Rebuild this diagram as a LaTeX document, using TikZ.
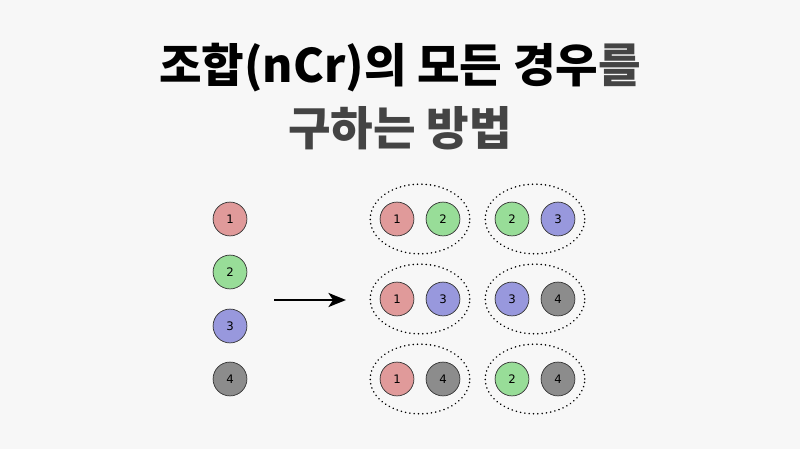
\documentclass[tikz,border=0pt]{standalone}
\usepackage{fontspec}
\usetikzlibrary{arrows.meta,shapes.geometric}
\newfontfamily\kr{Noto Sans CJK KR}
\setsansfont{DejaVu Sans}
\definecolor{cr}{HTML}{E09A9A}
\definecolor{cg}{HTML}{98DD98}
\definecolor{cb}{HTML}{9898DD}
\definecolor{ck}{HTML}{8C8C8C}
\definecolor{tg}{HTML}{444444}
\begin{document}
\begin{tikzpicture}[x=0.03cm,y=-0.03cm,
 ball/.style={circle,draw=black!80,line width=0.6pt,minimum size=34*0.85pt,inner sep=0pt,font=\sffamily\fontsize{10}{10}\selectfont},
 grp/.style={ellipse,draw,line width=1.4pt,line cap=round,dash pattern=on 0.1pt off 3.6pt,minimum width=100*0.85pt,minimum height=70*0.85pt}]
\fill[white!97!black] (0,0) rectangle (800,449);
\useasboundingbox (0,0) rectangle (800,449);
\node (t1) at (400,68) {\kr\bfseries\fontsize{39.5}{42}\selectfont 조합(nCr)의 모든 경우\textcolor{tg}{를}};
\node[text=tg] (t2) at (400,128) {\kr\bfseries\fontsize{39.5}{42}\selectfont 구하는 방법};
\node[ball,fill=cr] (a1) at (230,219) {1};
\node[ball,fill=cg] (a2) at (230,272) {2};
\node[ball,fill=cb] (a3) at (230,326) {3};
\node[ball,fill=ck] (a4) at (230,379) {4};
\coordinate (s) at (274,300); \coordinate (e) at (346,300);
\draw[-{Stealth[length=15pt,width=12pt,inset=4pt]},line width=2pt] (s) -- (e);
\foreach \gx/\gy/\ca/\na/\cbb/\nb/\n in {420/219/cr/1/cg/2/g1,535/219/cg/2/cb/3/g2,420/299/cr/1/cb/3/g3,535/299/cb/3/ck/4/g4,420/379/cr/1/ck/4/g5,535/379/cg/2/ck/4/g6}{
 \node[grp] (\n) at (\gx,\gy) {};
 \node[ball,fill=\ca] (\n a) at (\gx-23,\gy) {\na};
 \node[ball,fill=\cbb] (\n b) at (\gx+23,\gy) {\nb};
}
\end{tikzpicture}
\end{document}
